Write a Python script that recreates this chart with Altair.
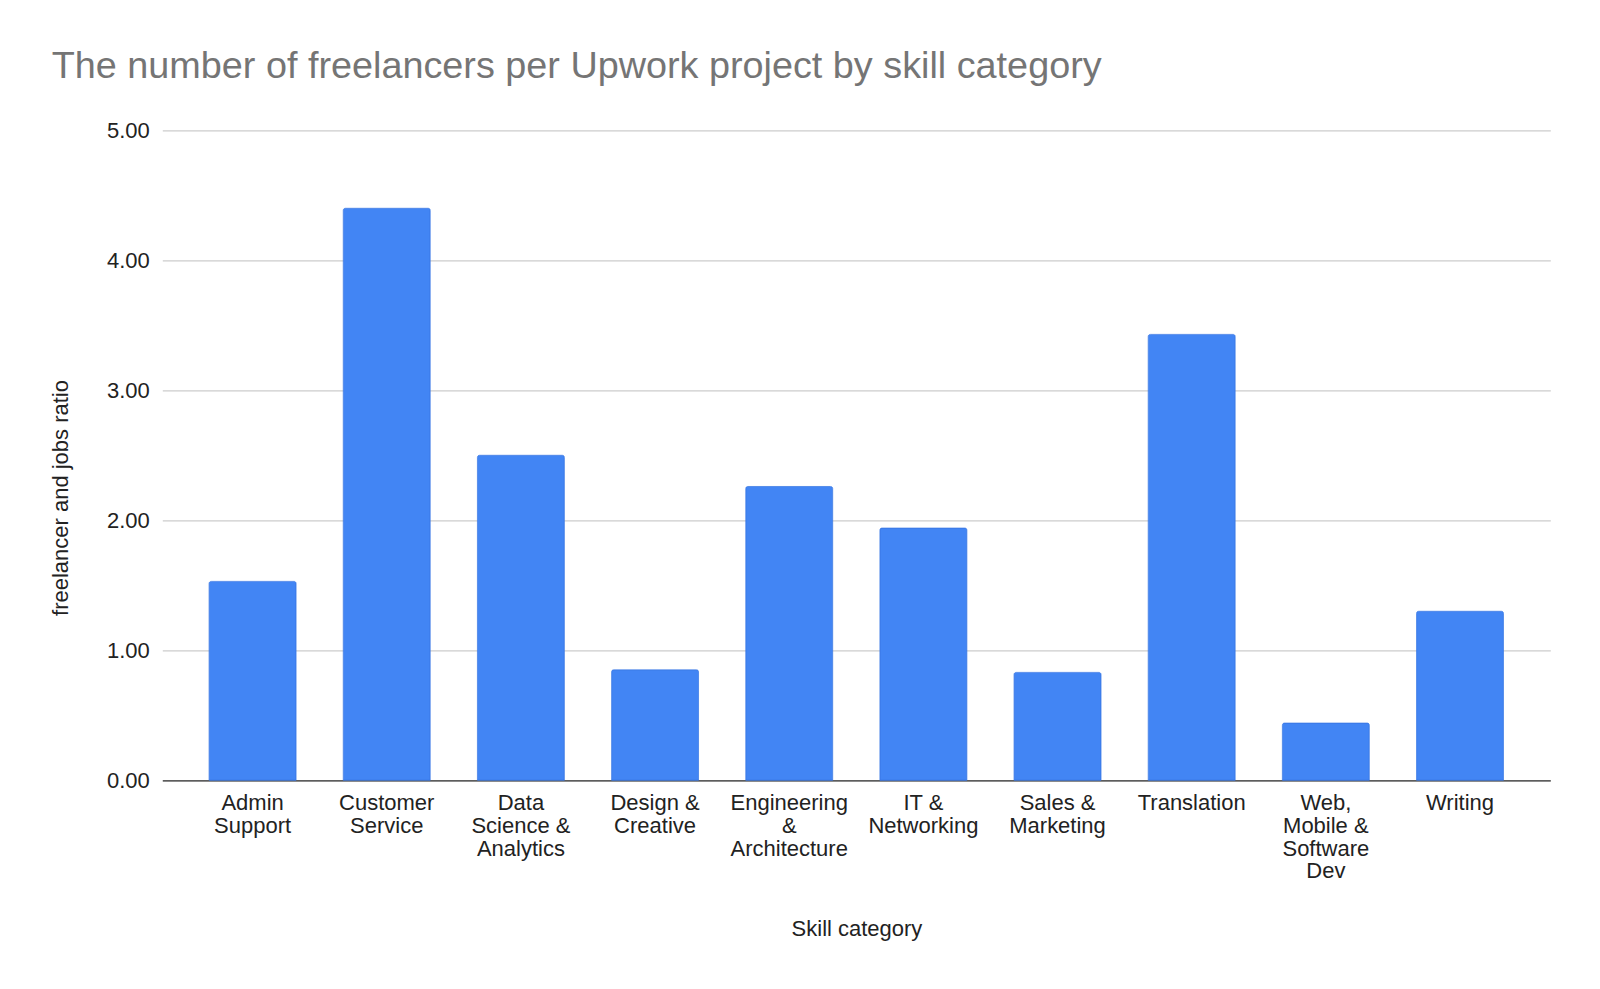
import altair as alt
import pandas as pd

categories = [
    "Admin|Support",
    "Customer|Service",
    "Data|Science &|Analytics",
    "Design &|Creative",
    "Engineering|&|Architecture",
    "IT &|Networking",
    "Sales &|Marketing",
    "Translation",
    "Web,|Mobile &|Software|Dev",
    "Writing",
]
ratios = [1.53, 4.40, 2.50, 0.85, 2.26, 1.94, 0.83, 3.43, 0.44, 1.30]
y_ticks = [0, 1, 2, 3, 4, 5]

df = pd.DataFrame({"category": categories, "ratio": ratios})

FONT = "Liberation Sans"

bars = alt.Chart(df).mark_bar(
    color="#4285F4",
    stroke="#3b7ae6",
    strokeWidth=0.8,
    cornerRadiusTopLeft=2,
    cornerRadiusTopRight=2,
).encode(
    x=alt.X(
        "category:N",
        sort=None,
        scale=alt.Scale(paddingInner=0.352, paddingOuter=0.349),
        axis=alt.Axis(
            title="Skill category",
            titleFont=FONT,
            titleFontSize=22,
            titleFontWeight="normal",
            titleColor="#222222",
            titleX=694.2,
            titleY=155,
            titleAlign="center",
            titleBaseline="alphabetic",
            labelExpr="split(datum.label, '|')",
            labelFont=FONT,
            labelFontSize=22,
            labelColor="#222222",
            labelAngle=0,
            labelBaseline="top",
            labelPadding=12.6,
            labelLineHeight=22.7,
            labelLimit=300,
            ticks=False,
            domain=True,
            domainColor="#333333",
            domainWidth=1.3,
            grid=False,
        ),
    ),
    y=alt.Y(
        "ratio:Q",
        scale=alt.Scale(domain=[0, 5], nice=False),
        axis=alt.Axis(
            title="freelancer and jobs ratio",
            titleFont=FONT,
            titleFontSize=22,
            titleFontWeight="normal",
            titleColor="#222222",
            titleAngle=-90,
            titleX=-95,
            titleY=367.2,
            titleAlign="center",
            titleBaseline="alphabetic",
            values=y_ticks,
            format=".2f",
            labelFont=FONT,
            labelFontSize=22,
            labelColor="#222222",
            labelPadding=13,
            labelBaseline="middle",
            ticks=False,
            domain=False,
            grid=True,
            gridColor="#cccccc",
            gridWidth=1.3,
        ),
    ),
)

chart = bars.properties(
    width=1388,
    height=650,
    autosize=alt.AutoSizeParams(type="none"),
    padding={"left": 154.3, "top": 122.3, "right": 40, "bottom": 190},
    background="white",
    title=alt.TitleParams(
        text="The number of freelancers per Upwork project by skill category",
        anchor="start",
        frame="group",
        dx=-110.6,
        font=FONT,
        fontSize=37.8,
        fontWeight="normal",
        color="#757575",
        baseline="alphabetic",
        offset=3,
    ),
).configure_view(stroke=None, strokeWidth=0)

chart.save("out.html", embed_options={"renderer": "svg", "actions": False})
